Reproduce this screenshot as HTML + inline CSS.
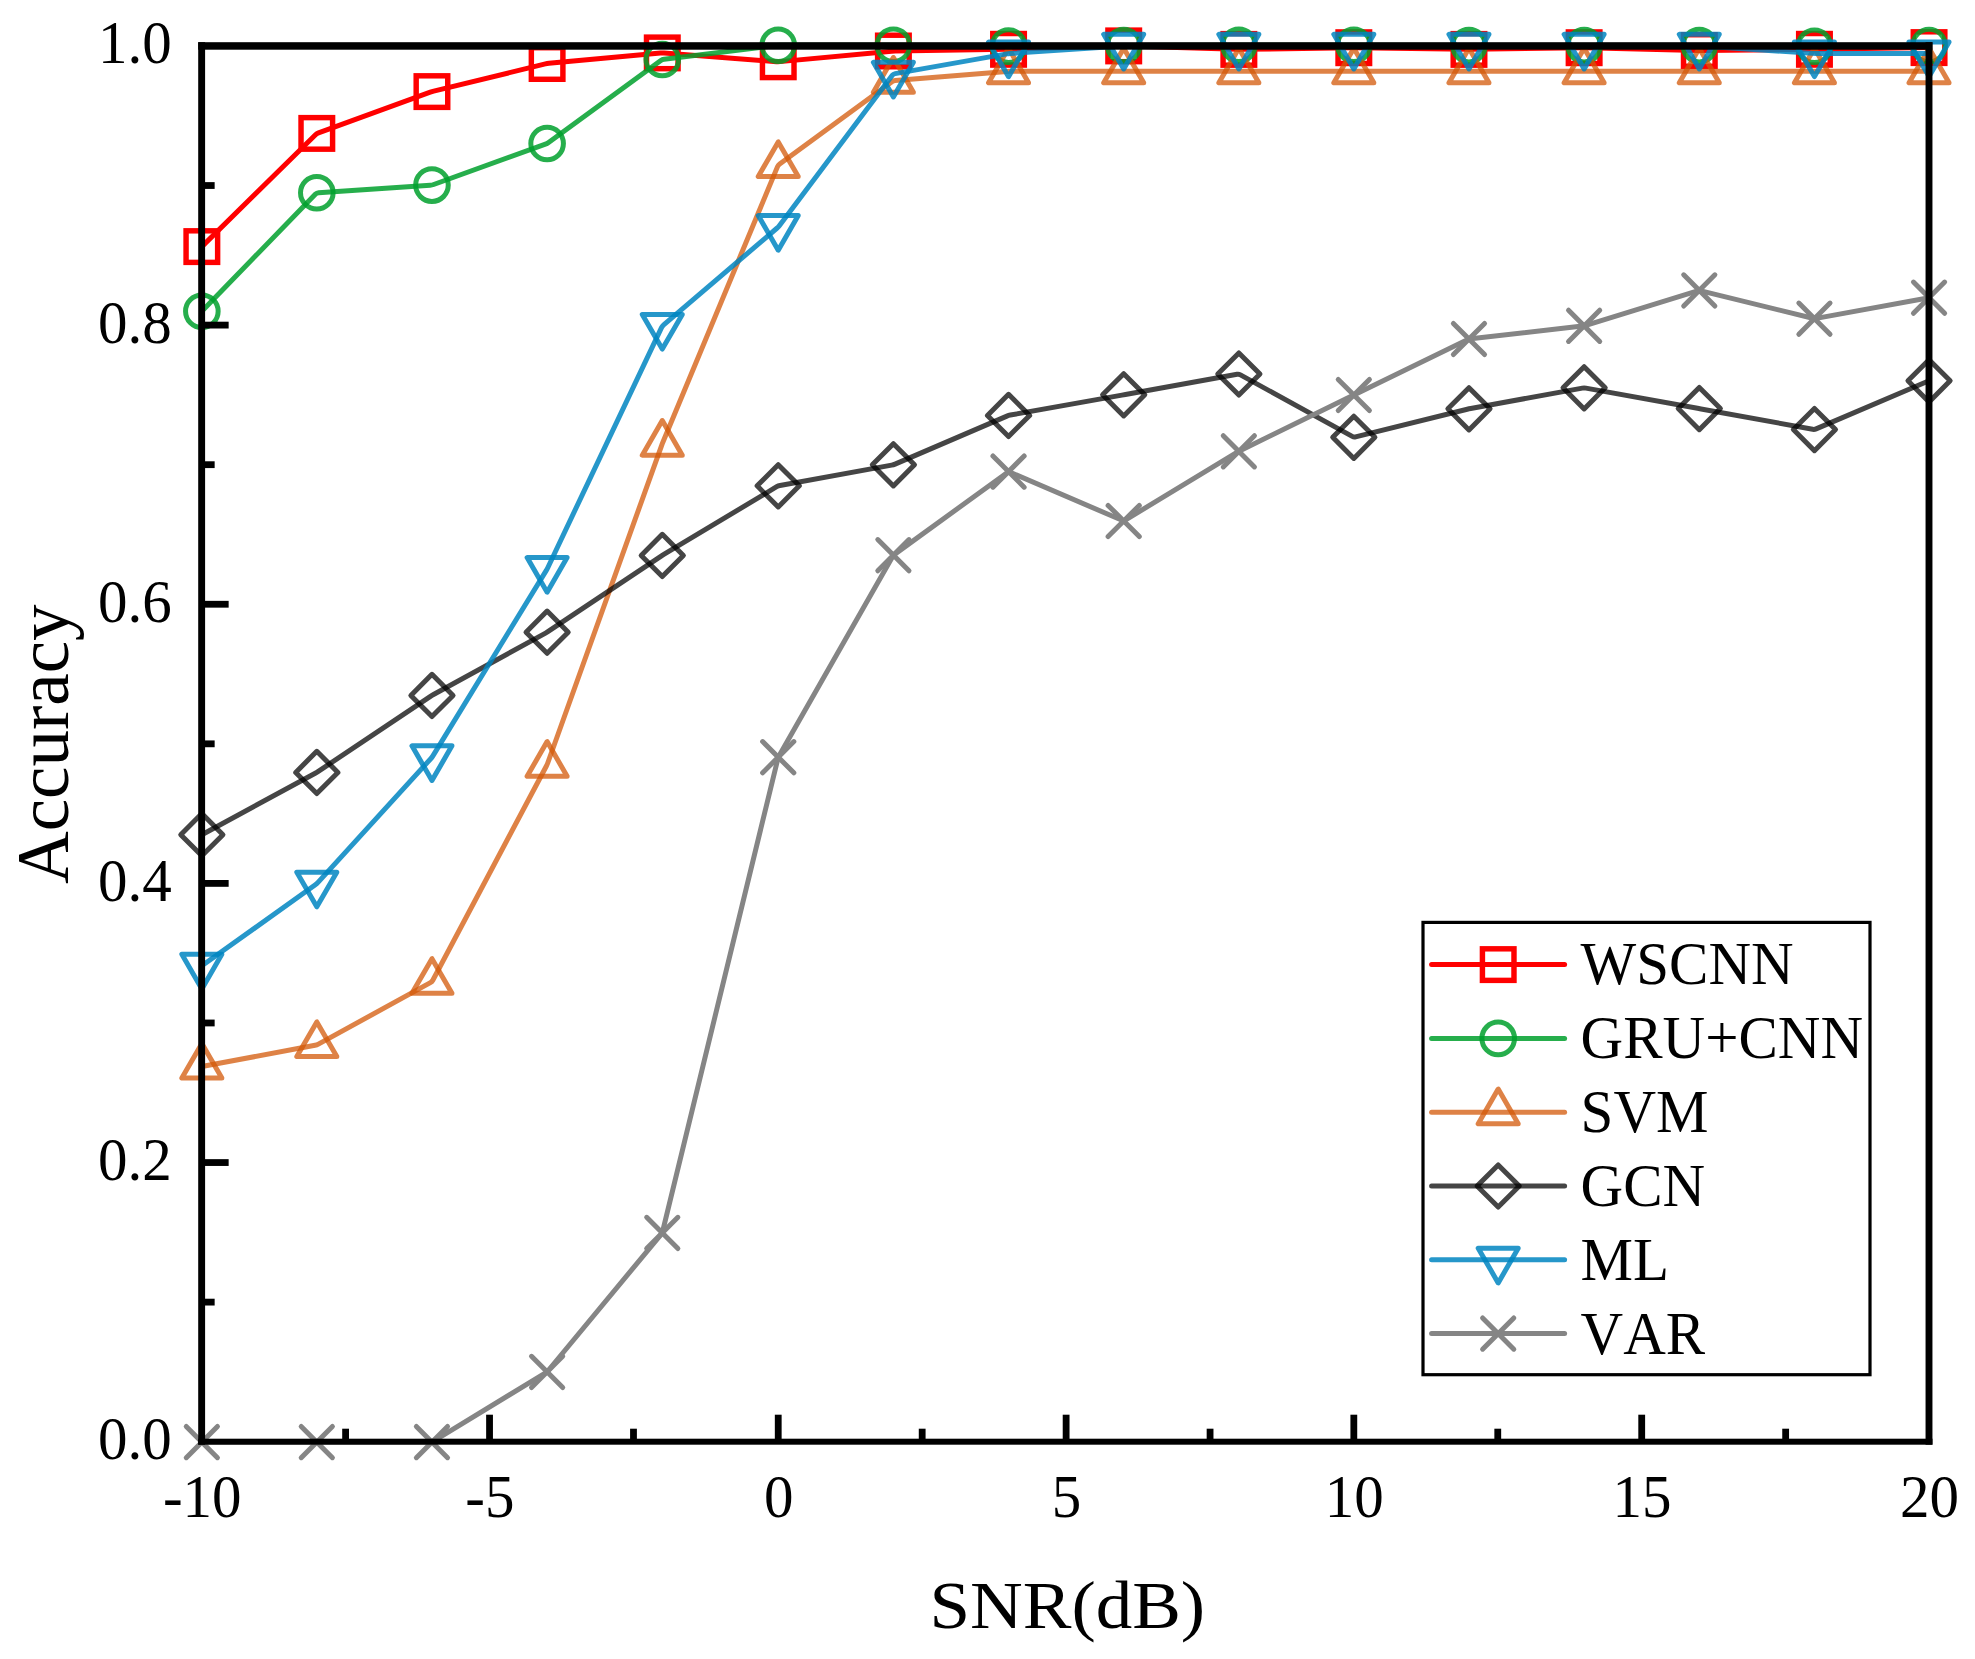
<!DOCTYPE html>
<html lang="en">
<head>
<meta charset="utf-8">
<title>Accuracy vs SNR(dB)</title>
<style>
html,body{margin:0;padding:0;background:#ffffff;}
body{width:1975px;height:1659px;overflow:hidden;}
svg{display:block;}
text{font-kerning:none;}
</style>
</head>
<body>
<svg width="1975" height="1659" viewBox="0 0 1975 1659">
<rect width="1975" height="1659" fill="#ffffff"/>
<g fill="none" stroke="#ff0000" stroke-opacity="1.0" stroke-width="5" stroke-linejoin="round" stroke-linecap="round">
<path d="M201.85 246.6L315.52 134.66Q316.81 133.4 318.5 132.79L430.27 92.21Q431.96 91.6 433.71 91.17L545.37 63.93Q547.12 63.5 548.91 63.34L660.48 53.06Q662.28 52.9 664.07 53.04L776.44 61.66Q778.23 61.8 780.03 61.63L891.6 51.17Q893.39 51 895.19 50.97L1006.75 49.33Q1008.55 49.3 1010.35 49.25L1121.9 45.95Q1123.7 45.9 1125.5 45.95L1237.06 49.35Q1238.86 49.4 1240.66 49.37L1352.02 47.73Q1353.82 47.7 1355.62 47.73L1467.17 49.37Q1468.97 49.4 1470.77 49.37L1582.33 47.73Q1584.13 47.7 1585.93 47.74L1697.49 50.46Q1699.29 50.5 1701.09 50.48L1812.64 49.32Q1814.44 49.3 1816.24 49.27L1929.05 47.6" stroke-width="5" stroke-linecap="butt"/>
<rect x="186.07" y="230.82" width="31.56" height="31.56" stroke-width="5.45" stroke-linejoin="miter"/>
<rect x="301.03" y="117.62" width="31.56" height="31.56" stroke-width="5.45" stroke-linejoin="miter"/>
<rect x="416.18" y="75.82" width="31.56" height="31.56" stroke-width="5.45" stroke-linejoin="miter"/>
<rect x="531.34" y="47.72" width="31.56" height="31.56" stroke-width="5.45" stroke-linejoin="miter"/>
<rect x="646.5" y="37.12" width="31.56" height="31.56" stroke-width="5.45" stroke-linejoin="miter"/>
<rect x="762.45" y="46.02" width="31.56" height="31.56" stroke-width="5.45" stroke-linejoin="miter"/>
<rect x="877.61" y="35.22" width="31.56" height="31.56" stroke-width="5.45" stroke-linejoin="miter"/>
<rect x="992.77" y="33.52" width="31.56" height="31.56" stroke-width="5.45" stroke-linejoin="miter"/>
<rect x="1107.92" y="30.12" width="31.56" height="31.56" stroke-width="5.45" stroke-linejoin="miter"/>
<rect x="1223.08" y="33.62" width="31.56" height="31.56" stroke-width="5.45" stroke-linejoin="miter"/>
<rect x="1338.04" y="31.92" width="31.56" height="31.56" stroke-width="5.45" stroke-linejoin="miter"/>
<rect x="1453.19" y="33.62" width="31.56" height="31.56" stroke-width="5.45" stroke-linejoin="miter"/>
<rect x="1568.35" y="31.92" width="31.56" height="31.56" stroke-width="5.45" stroke-linejoin="miter"/>
<rect x="1683.51" y="34.72" width="31.56" height="31.56" stroke-width="5.45" stroke-linejoin="miter"/>
<rect x="1798.66" y="33.52" width="31.56" height="31.56" stroke-width="5.45" stroke-linejoin="miter"/>
<rect x="1913.27" y="31.82" width="31.56" height="31.56" stroke-width="5.45" stroke-linejoin="miter"/>
</g>
<g fill="none" stroke="#00a02d" stroke-opacity="0.85" stroke-width="5" stroke-linejoin="round" stroke-linecap="round">
<path d="M201.85 311.2L315.55 194.09Q316.81 192.8 318.6 192.68L430.17 185.22Q431.96 185.1 433.66 184.49L545.43 144.11Q547.12 143.5 548.57 142.44L660.82 60.56Q662.28 59.5 664.06 59.28L776.45 45.52Q778.23 45.3 780.03 45.3L891.59 45.3Q893.39 45.3 895.19 45.31L1006.75 46.09Q1008.55 46.1 1010.35 46.09L1121.9 45.51Q1123.7 45.5 1125.5 45.5L1237.06 45.3Q1238.86 45.3 1240.66 45.3L1352.02 45.3Q1353.82 45.3 1355.62 45.3L1467.17 45.6Q1468.97 45.6 1470.77 45.6L1582.33 45.6Q1584.13 45.6 1585.93 45.6L1697.49 45.6Q1699.29 45.6 1701.09 45.61L1812.64 46.29Q1814.44 46.3 1816.24 46.29L1929.05 45.6" stroke-width="5" stroke-linecap="butt"/>
<circle cx="201.85" cy="311.2" r="16.3"/>
<circle cx="316.81" cy="192.8" r="16.3"/>
<circle cx="431.96" cy="185.1" r="16.3"/>
<circle cx="547.12" cy="143.5" r="16.3"/>
<circle cx="662.28" cy="59.5" r="16.3"/>
<circle cx="778.23" cy="45.3" r="16.3"/>
<circle cx="893.39" cy="45.3" r="16.3"/>
<circle cx="1008.55" cy="46.1" r="16.3"/>
<circle cx="1123.7" cy="45.5" r="16.3"/>
<circle cx="1238.86" cy="45.3" r="16.3"/>
<circle cx="1353.82" cy="45.3" r="16.3"/>
<circle cx="1468.97" cy="45.6" r="16.3"/>
<circle cx="1584.13" cy="45.6" r="16.3"/>
<circle cx="1699.29" cy="45.6" r="16.3"/>
<circle cx="1814.44" cy="46.3" r="16.3"/>
<circle cx="1929.05" cy="45.6" r="16.3"/>
</g>
<g fill="none" stroke="#d35808" stroke-opacity="0.75" stroke-width="5" stroke-linejoin="round" stroke-linecap="round">
<path d="M201.85 1066.5L315.04 1045.33Q316.81 1045 318.38 1044.13L430.39 982.67Q431.96 981.8 432.81 980.21L546.28 766.29Q547.12 764.7 547.73 763.01L661.67 445.29Q662.28 443.6 662.97 441.94L777.54 166.66Q778.23 165 779.69 163.94L891.94 81.66Q893.39 80.6 895.18 80.46L1006.75 71.44Q1008.55 71.3 1010.35 71.3L1121.9 71.3Q1123.7 71.3 1125.5 71.3L1237.06 71.3Q1238.86 71.3 1240.66 71.3L1352.02 71.3Q1353.82 71.3 1355.62 71.3L1467.17 71.3Q1468.97 71.3 1470.77 71.3L1582.33 71.3Q1584.13 71.3 1585.93 71.3L1697.49 71.3Q1699.29 71.3 1701.09 71.3L1812.64 71.3Q1814.44 71.3 1816.24 71.3L1929.05 71.3" stroke-width="5" stroke-linecap="butt"/>
<path d="M201.85 1043.41L181.85 1078.05L221.85 1078.05Z"/>
<path d="M316.81 1021.91L296.81 1056.55L336.81 1056.55Z"/>
<path d="M431.96 958.71L411.96 993.35L451.96 993.35Z"/>
<path d="M547.12 741.61L527.12 776.25L567.12 776.25Z"/>
<path d="M662.28 420.51L642.28 455.15L682.28 455.15Z"/>
<path d="M778.23 141.91L758.23 176.55L798.23 176.55Z"/>
<path d="M893.39 57.51L873.39 92.15L913.39 92.15Z"/>
<path d="M1008.55 48.21L988.55 82.85L1028.55 82.85Z"/>
<path d="M1123.7 48.21L1103.7 82.85L1143.7 82.85Z"/>
<path d="M1238.86 48.21L1218.86 82.85L1258.86 82.85Z"/>
<path d="M1353.82 48.21L1333.82 82.85L1373.82 82.85Z"/>
<path d="M1468.97 48.21L1448.97 82.85L1488.97 82.85Z"/>
<path d="M1584.13 48.21L1564.13 82.85L1604.13 82.85Z"/>
<path d="M1699.29 48.21L1679.29 82.85L1719.29 82.85Z"/>
<path d="M1814.44 48.21L1794.44 82.85L1834.44 82.85Z"/>
<path d="M1929.05 48.21L1909.05 82.85L1949.05 82.85Z"/>
</g>
<g fill="none" stroke="#000000" stroke-opacity="0.73" stroke-width="5" stroke-linejoin="round" stroke-linecap="round">
<path d="M201.85 834.7L315.22 773.26Q316.81 772.4 318.3 771.4L430.47 696.4Q431.96 695.4 433.54 694.53L545.54 633.07Q547.12 632.2 548.62 631.2L660.78 556.4Q662.28 555.4 663.82 554.47L776.69 486.73Q778.23 485.8 780 485.48L891.62 465.12Q893.39 464.8 895.04 464.09L1006.89 416.11Q1008.55 415.4 1010.32 415.08L1121.93 395.12Q1123.7 394.8 1125.47 394.48L1237.09 374.32Q1238.86 374 1240.44 374.87L1352.24 436.43Q1353.82 437.3 1355.56 436.87L1467.23 409.23Q1468.97 408.8 1470.74 408.48L1582.36 388.12Q1584.13 387.8 1585.9 388.12L1697.52 408.28Q1699.29 408.6 1701.06 408.92L1812.67 429.28Q1814.44 429.6 1816.1 428.89L1929.05 380.8" stroke-width="5" stroke-linecap="butt"/>
<path d="M201.85 813.6L222.95 834.7L201.85 855.8L180.75 834.7Z"/>
<path d="M316.81 751.3L337.91 772.4L316.81 793.5L295.71 772.4Z"/>
<path d="M431.96 674.3L453.06 695.4L431.96 716.5L410.86 695.4Z"/>
<path d="M547.12 611.1L568.22 632.2L547.12 653.3L526.02 632.2Z"/>
<path d="M662.28 534.3L683.38 555.4L662.28 576.5L641.18 555.4Z"/>
<path d="M778.23 464.7L799.33 485.8L778.23 506.9L757.13 485.8Z"/>
<path d="M893.39 443.7L914.49 464.8L893.39 485.9L872.29 464.8Z"/>
<path d="M1008.55 394.3L1029.65 415.4L1008.55 436.5L987.45 415.4Z"/>
<path d="M1123.7 373.7L1144.8 394.8L1123.7 415.9L1102.6 394.8Z"/>
<path d="M1238.86 352.9L1259.96 374L1238.86 395.1L1217.76 374Z"/>
<path d="M1353.82 416.2L1374.92 437.3L1353.82 458.4L1332.72 437.3Z"/>
<path d="M1468.97 387.7L1490.07 408.8L1468.97 429.9L1447.87 408.8Z"/>
<path d="M1584.13 366.7L1605.23 387.8L1584.13 408.9L1563.03 387.8Z"/>
<path d="M1699.29 387.5L1720.39 408.6L1699.29 429.7L1678.19 408.6Z"/>
<path d="M1814.44 408.5L1835.54 429.6L1814.44 450.7L1793.34 429.6Z"/>
<path d="M1929.05 359.7L1950.15 380.8L1929.05 401.9L1907.95 380.8Z"/>
</g>
<g fill="none" stroke="#0085c1" stroke-opacity="0.85" stroke-width="5" stroke-linejoin="round" stroke-linecap="round">
<path d="M201.85 965.8L315.34 884.75Q316.81 883.7 318.02 882.37L430.75 758.73Q431.96 757.4 432.9 755.86L546.18 570.64Q547.12 569.1 547.89 567.47L661.51 327.63Q662.28 326 663.65 324.83L776.86 228.27Q778.23 227.1 779.31 225.66L892.31 75.34Q893.39 73.9 895.16 73.59L1006.77 53.91Q1008.55 53.6 1010.34 53.48L1121.91 46.02Q1123.7 45.9 1125.5 45.9L1237.06 45.9Q1238.86 45.9 1240.66 45.9L1352.02 45.9Q1353.82 45.9 1355.62 45.9L1467.17 45.9Q1468.97 45.9 1470.77 45.9L1582.33 45.9Q1584.13 45.9 1585.93 45.9L1697.49 45.9Q1699.29 45.9 1701.08 46.02L1812.65 53.38Q1814.44 53.5 1816.24 53.5L1929.05 53.5" stroke-width="5" stroke-linecap="butt"/>
<path d="M201.85 988.89L181.85 954.25L221.85 954.25Z"/>
<path d="M316.81 906.79L296.81 872.15L336.81 872.15Z"/>
<path d="M431.96 780.49L411.96 745.85L451.96 745.85Z"/>
<path d="M547.12 592.19L527.12 557.55L567.12 557.55Z"/>
<path d="M662.28 349.09L642.28 314.45L682.28 314.45Z"/>
<path d="M778.23 250.19L758.23 215.55L798.23 215.55Z"/>
<path d="M893.39 96.99L873.39 62.35L913.39 62.35Z"/>
<path d="M1008.55 76.69L988.55 42.05L1028.55 42.05Z"/>
<path d="M1123.7 68.99L1103.7 34.35L1143.7 34.35Z"/>
<path d="M1238.86 68.99L1218.86 34.35L1258.86 34.35Z"/>
<path d="M1353.82 68.99L1333.82 34.35L1373.82 34.35Z"/>
<path d="M1468.97 68.99L1448.97 34.35L1488.97 34.35Z"/>
<path d="M1584.13 68.99L1564.13 34.35L1604.13 34.35Z"/>
<path d="M1699.29 68.99L1679.29 34.35L1719.29 34.35Z"/>
<path d="M1814.44 76.59L1794.44 41.95L1834.44 41.95Z"/>
<path d="M1929.05 76.59L1909.05 41.95L1949.05 41.95Z"/>
</g>
<g fill="none" stroke="#858585" stroke-opacity="1.0" stroke-width="5" stroke-linejoin="round" stroke-linecap="round">
<path d="M201.85 1442.1L315.01 1442.1Q316.81 1442.1 318.61 1442.1L430.16 1442.1Q431.96 1442.1 433.5 1441.16L545.58 1372.84Q547.12 1371.9 548.27 1370.51L661.13 1234.29Q662.28 1232.9 662.7 1231.15L777.81 758.95Q778.23 757.2 779.12 755.64L892.5 556.76Q893.39 555.2 894.85 554.14L1007.09 472.66Q1008.55 471.6 1010.2 472.31L1122.05 520.29Q1123.7 521 1125.24 520.07L1237.32 452.23Q1238.86 451.3 1240.48 450.51L1352.2 395.79Q1353.82 395 1355.44 394.21L1467.35 339.79Q1468.97 339 1470.76 338.8L1582.34 326Q1584.13 325.8 1585.85 325.27L1697.57 290.93Q1699.29 290.4 1701.03 290.83L1812.7 318.27Q1814.44 318.7 1816.21 318.38L1929.05 297.7" stroke-width="5" stroke-linecap="butt"/>
<path d="M186.25 1426.5L217.45 1457.7M186.25 1457.7L217.45 1426.5"/>
<path d="M301.21 1426.5L332.41 1457.7M301.21 1457.7L332.41 1426.5"/>
<path d="M416.36 1426.5L447.56 1457.7M416.36 1457.7L447.56 1426.5"/>
<path d="M531.52 1356.3L562.72 1387.5M531.52 1387.5L562.72 1356.3"/>
<path d="M646.68 1217.3L677.88 1248.5M646.68 1248.5L677.88 1217.3"/>
<path d="M762.63 741.6L793.83 772.8M762.63 772.8L793.83 741.6"/>
<path d="M877.79 539.6L908.99 570.8M877.79 570.8L908.99 539.6"/>
<path d="M992.95 456L1024.15 487.2M992.95 487.2L1024.15 456"/>
<path d="M1108.1 505.4L1139.3 536.6M1108.1 536.6L1139.3 505.4"/>
<path d="M1223.26 435.7L1254.46 466.9M1223.26 466.9L1254.46 435.7"/>
<path d="M1338.22 379.4L1369.42 410.6M1338.22 410.6L1369.42 379.4"/>
<path d="M1453.37 323.4L1484.57 354.6M1453.37 354.6L1484.57 323.4"/>
<path d="M1568.53 310.2L1599.73 341.4M1568.53 341.4L1599.73 310.2"/>
<path d="M1683.69 274.8L1714.89 306M1683.69 306L1714.89 274.8"/>
<path d="M1798.84 303.1L1830.04 334.3M1798.84 334.3L1830.04 303.1"/>
<path d="M1913.45 282.1L1944.65 313.3M1913.45 313.3L1944.65 282.1"/>
</g>
<g fill="#000000">
<rect x="198.2" y="42.2" width="1734.25" height="7.5"/>
<rect x="198.2" y="1438.7" width="1734.25" height="6"/>
<rect x="198.2" y="42.2" width="6.9" height="1402.5"/>
<rect x="1925.55" y="42.2" width="6.9" height="1402.5"/>
<rect x="201.65" y="1298.72" width="13" height="6.8"/>
<rect x="201.65" y="1159.15" width="27" height="6.8"/>
<rect x="201.65" y="1019.58" width="13" height="6.8"/>
<rect x="201.65" y="880" width="27" height="6.8"/>
<rect x="201.65" y="740.43" width="13" height="6.8"/>
<rect x="201.65" y="600.85" width="27" height="6.8"/>
<rect x="201.65" y="461.28" width="13" height="6.8"/>
<rect x="201.65" y="321.7" width="27" height="6.8"/>
<rect x="201.65" y="182.12" width="13" height="6.8"/>
<rect x="342.2" y="1428.7" width="6.8" height="13"/>
<rect x="486.14" y="1414.7" width="6.8" height="27"/>
<rect x="630.09" y="1428.7" width="6.8" height="13"/>
<rect x="774.83" y="1414.7" width="6.8" height="27"/>
<rect x="918.78" y="1428.7" width="6.8" height="13"/>
<rect x="1062.72" y="1414.7" width="6.8" height="27"/>
<rect x="1206.67" y="1428.7" width="6.8" height="13"/>
<rect x="1350.42" y="1414.7" width="6.8" height="27"/>
<rect x="1494.36" y="1428.7" width="6.8" height="13"/>
<rect x="1638.31" y="1414.7" width="6.8" height="27"/>
<rect x="1782.25" y="1428.7" width="6.8" height="13"/>
</g>
<g font-family="'Liberation Serif',serif" fill="#000000" style="font-kerning:none">
<text transform="translate(171.8 1459.2) scale(1 1.05)" font-size="59" text-anchor="end">0.0</text>
<text transform="translate(171.8 1180.05) scale(1 1.05)" font-size="59" text-anchor="end">0.2</text>
<text transform="translate(171.8 900.9) scale(1 1.05)" font-size="59" text-anchor="end">0.4</text>
<text transform="translate(171.8 621.75) scale(1 1.05)" font-size="59" text-anchor="end">0.6</text>
<text transform="translate(171.8 342.6) scale(1 1.05)" font-size="59" text-anchor="end">0.8</text>
<text transform="translate(171.8 63.45) scale(1 1.05)" font-size="59" text-anchor="end">1.0</text>
<text transform="translate(202.25 1516.6) scale(1 1.04)" font-size="59" text-anchor="middle">-10</text>
<text transform="translate(489.94 1516.6) scale(1 1.04)" font-size="59" text-anchor="middle">-5</text>
<text transform="translate(778.63 1516.6) scale(1 1.04)" font-size="59" text-anchor="middle">0</text>
<text transform="translate(1066.53 1516.6) scale(1 1.04)" font-size="59" text-anchor="middle">5</text>
<text transform="translate(1354.22 1516.6) scale(1 1.04)" font-size="59" text-anchor="middle">10</text>
<text transform="translate(1642.11 1516.6) scale(1 1.04)" font-size="59" text-anchor="middle">15</text>
<text transform="translate(1929.45 1516.6) scale(1 1.04)" font-size="59" text-anchor="middle">20</text>
</g>
<text font-family="'Liberation Serif',serif" font-size="73" transform="translate(1067.3 1627.9) scale(1 0.92)" text-anchor="middle" style="font-kerning:none">SNR(dB)</text>
<text font-family="'Liberation Serif',serif" font-size="73" transform="translate(68.2 744.2) rotate(-90)" text-anchor="middle" style="font-kerning:none">Accuracy</text>
<rect x="1423" y="922.4" width="447" height="452.3" fill="#ffffff" stroke="#000000" stroke-width="3.2"/>
<g fill="none" stroke="#ff0000" stroke-opacity="1.0" stroke-width="5" stroke-linejoin="round" stroke-linecap="round">
<path d="M1431.6 964.6L1564.6 964.6" stroke-width="5"/>
<rect x="1482.42" y="948.82" width="31.56" height="31.56" stroke-width="5.45" stroke-linejoin="miter"/>
</g>
<g fill="none" stroke="#00a02d" stroke-opacity="0.85" stroke-width="5" stroke-linejoin="round" stroke-linecap="round">
<path d="M1431.6 1038.4L1564.6 1038.4" stroke-width="5"/>
<circle cx="1498.2" cy="1038.4" r="16.3"/>
</g>
<g fill="none" stroke="#d35808" stroke-opacity="0.75" stroke-width="5" stroke-linejoin="round" stroke-linecap="round">
<path d="M1431.6 1112.2L1564.6 1112.2" stroke-width="5"/>
<path d="M1498.2 1089.11L1478.2 1123.75L1518.2 1123.75Z"/>
</g>
<g fill="none" stroke="#000000" stroke-opacity="0.73" stroke-width="5" stroke-linejoin="round" stroke-linecap="round">
<path d="M1431.6 1186L1564.6 1186" stroke-width="5"/>
<path d="M1498.2 1164.9L1519.3 1186L1498.2 1207.1L1477.1 1186Z"/>
</g>
<g fill="none" stroke="#0085c1" stroke-opacity="0.85" stroke-width="5" stroke-linejoin="round" stroke-linecap="round">
<path d="M1431.6 1259.8L1564.6 1259.8" stroke-width="5"/>
<path d="M1498.2 1282.89L1478.2 1248.25L1518.2 1248.25Z"/>
</g>
<g fill="none" stroke="#858585" stroke-opacity="1.0" stroke-width="5" stroke-linejoin="round" stroke-linecap="round">
<path d="M1431.6 1333.6L1564.6 1333.6" stroke-width="5"/>
<path d="M1482.6 1318L1513.8 1349.2M1482.6 1349.2L1513.8 1318"/>
</g>
<g font-family="'Liberation Serif',serif" fill="#000000" style="font-kerning:none">
<text transform="translate(1580.6 983.6) scale(1 1.04)" font-size="59" text-anchor="start">WSCNN</text>
<text transform="translate(1580.6 1057.6) scale(1 1.04)" font-size="59" text-anchor="start">GRU+CNN</text>
<text transform="translate(1580.6 1131.6) scale(1 1.04)" font-size="59" text-anchor="start">SVM</text>
<text transform="translate(1580.6 1205.6) scale(1 1.04)" font-size="59" text-anchor="start">GCN</text>
<text transform="translate(1580.6 1279.6) scale(1 1.04)" font-size="59" text-anchor="start">ML</text>
<text transform="translate(1580.6 1353.6) scale(1 1.04)" font-size="59" text-anchor="start">VAR</text>
</g>
</svg>
</body>
</html>
